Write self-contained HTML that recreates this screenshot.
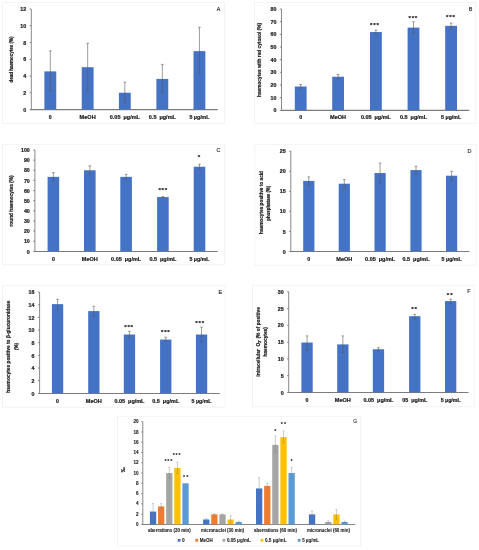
<!DOCTYPE html>
<html lang="en"><head><meta charset="utf-8"><title>Figure</title>
<style>
html,body{margin:0;padding:0;background:#fff;}
svg{display:block;font-family:"Liberation Sans",sans-serif;}
</style></head><body>
<svg width="479" height="550" viewBox="0 0 479 550">
<rect x="0" y="0" width="479" height="550" fill="#ffffff"/>
<rect x="2.50" y="2.50" width="222.00" height="120.90" fill="#fff" stroke="#f1f1f1" stroke-width="0.8"/>
<line x1="31.30" y1="9.00" x2="31.30" y2="110.10" stroke="#6a6a6a" stroke-width="0.8"/>
<line x1="30.90" y1="109.60" x2="217.70" y2="109.60" stroke="#7c7c7c" stroke-width="1.1"/>
<line x1="29.60" y1="109.50" x2="31.30" y2="109.50" stroke="#6a6a6a" stroke-width="0.75"/>
<text x="26.20" y="111.60" font-size="5.3" text-anchor="end" font-weight="bold" fill="#1f1f1f" stroke="#1f1f1f" stroke-width="0.22">0</text>
<line x1="29.60" y1="92.75" x2="31.30" y2="92.75" stroke="#6a6a6a" stroke-width="0.75"/>
<text x="26.20" y="94.85" font-size="5.3" text-anchor="end" font-weight="bold" fill="#1f1f1f" stroke="#1f1f1f" stroke-width="0.22">2</text>
<line x1="29.60" y1="76.00" x2="31.30" y2="76.00" stroke="#6a6a6a" stroke-width="0.75"/>
<text x="26.20" y="78.10" font-size="5.3" text-anchor="end" font-weight="bold" fill="#1f1f1f" stroke="#1f1f1f" stroke-width="0.22">4</text>
<line x1="29.60" y1="59.25" x2="31.30" y2="59.25" stroke="#6a6a6a" stroke-width="0.75"/>
<text x="26.20" y="61.35" font-size="5.3" text-anchor="end" font-weight="bold" fill="#1f1f1f" stroke="#1f1f1f" stroke-width="0.22">6</text>
<line x1="29.60" y1="42.50" x2="31.30" y2="42.50" stroke="#6a6a6a" stroke-width="0.75"/>
<text x="26.20" y="44.60" font-size="5.3" text-anchor="end" font-weight="bold" fill="#1f1f1f" stroke="#1f1f1f" stroke-width="0.22">8</text>
<line x1="29.60" y1="25.75" x2="31.30" y2="25.75" stroke="#6a6a6a" stroke-width="0.75"/>
<text x="26.20" y="27.85" font-size="5.3" text-anchor="end" font-weight="bold" fill="#1f1f1f" stroke="#1f1f1f" stroke-width="0.22">10</text>
<line x1="29.60" y1="9.00" x2="31.30" y2="9.00" stroke="#6a6a6a" stroke-width="0.75"/>
<text x="26.20" y="11.10" font-size="5.3" text-anchor="end" font-weight="bold" fill="#1f1f1f" stroke="#1f1f1f" stroke-width="0.22">12</text>
<rect x="44.40" y="71.39" width="11.85" height="38.11" fill="#4472C4"/>
<line x1="50.32" y1="50.90" x2="50.32" y2="91.50" stroke="#5a5a5a" stroke-width="0.6"/>
<line x1="49.02" y1="50.90" x2="51.62" y2="50.90" stroke="#5a5a5a" stroke-width="0.6"/>
<line x1="49.02" y1="91.50" x2="51.62" y2="91.50" stroke="#5a5a5a" stroke-width="0.6"/>
<rect x="81.75" y="67.21" width="11.85" height="42.29" fill="#4472C4"/>
<line x1="87.67" y1="43.40" x2="87.67" y2="90.70" stroke="#5a5a5a" stroke-width="0.6"/>
<line x1="86.38" y1="43.40" x2="88.97" y2="43.40" stroke="#5a5a5a" stroke-width="0.6"/>
<line x1="86.38" y1="90.70" x2="88.97" y2="90.70" stroke="#5a5a5a" stroke-width="0.6"/>
<rect x="118.90" y="92.75" width="11.85" height="16.75" fill="#4472C4"/>
<line x1="124.83" y1="82.20" x2="124.83" y2="102.80" stroke="#5a5a5a" stroke-width="0.6"/>
<line x1="123.53" y1="82.20" x2="126.12" y2="82.20" stroke="#5a5a5a" stroke-width="0.6"/>
<line x1="123.53" y1="102.80" x2="126.12" y2="102.80" stroke="#5a5a5a" stroke-width="0.6"/>
<rect x="156.40" y="78.93" width="11.85" height="30.57" fill="#4472C4"/>
<line x1="162.33" y1="64.40" x2="162.33" y2="92.70" stroke="#5a5a5a" stroke-width="0.6"/>
<line x1="161.03" y1="64.40" x2="163.63" y2="64.40" stroke="#5a5a5a" stroke-width="0.6"/>
<line x1="161.03" y1="92.70" x2="163.63" y2="92.70" stroke="#5a5a5a" stroke-width="0.6"/>
<rect x="193.50" y="51.13" width="11.85" height="58.37" fill="#4472C4"/>
<line x1="199.43" y1="27.30" x2="199.43" y2="73.90" stroke="#5a5a5a" stroke-width="0.6"/>
<line x1="198.12" y1="27.30" x2="200.73" y2="27.30" stroke="#5a5a5a" stroke-width="0.6"/>
<line x1="198.12" y1="73.90" x2="200.73" y2="73.90" stroke="#5a5a5a" stroke-width="0.6"/>
<text x="218.50" y="10.90" font-size="5.4" text-anchor="middle" font-weight="normal" fill="#333" stroke="#333" stroke-width="0.18">A</text>
<text x="13.20" y="59.50" font-size="4.9" text-anchor="middle" font-weight="bold" fill="#1f1f1f" stroke="#1f1f1f" stroke-width="0.22" transform="rotate(-90 13.20 59.50)" textLength="46.00" lengthAdjust="spacingAndGlyphs">dead haemocytes (%)</text>
<text x="50.32" y="118.80" font-size="5.2" text-anchor="middle" font-weight="bold" fill="#1f1f1f" stroke="#1f1f1f" stroke-width="0.22">0</text>
<text x="87.67" y="118.80" font-size="5.2" text-anchor="middle" font-weight="bold" fill="#1f1f1f" stroke="#1f1f1f" stroke-width="0.22" textLength="16.10" lengthAdjust="spacingAndGlyphs">MeOH</text>
<text x="124.83" y="118.80" font-size="5.2" text-anchor="middle" font-weight="bold" fill="#1f1f1f" stroke="#1f1f1f" stroke-width="0.22" textLength="30.00" lengthAdjust="spacingAndGlyphs">0.05  μg/mL</text>
<text x="162.33" y="118.80" font-size="5.2" text-anchor="middle" font-weight="bold" fill="#1f1f1f" stroke="#1f1f1f" stroke-width="0.22" textLength="27.00" lengthAdjust="spacingAndGlyphs">0.5  μg/mL</text>
<text x="199.43" y="118.80" font-size="5.2" text-anchor="middle" font-weight="bold" fill="#1f1f1f" stroke="#1f1f1f" stroke-width="0.22" textLength="20.00" lengthAdjust="spacingAndGlyphs">5 μg/mL</text>
<rect x="254.40" y="2.50" width="221.30" height="121.00" fill="#fff" stroke="#f1f1f1" stroke-width="0.8"/>
<line x1="281.50" y1="9.00" x2="281.50" y2="110.90" stroke="#6a6a6a" stroke-width="0.8"/>
<line x1="281.10" y1="110.40" x2="469.30" y2="110.40" stroke="#7c7c7c" stroke-width="1.1"/>
<line x1="279.80" y1="110.30" x2="281.50" y2="110.30" stroke="#6a6a6a" stroke-width="0.75"/>
<text x="276.40" y="112.40" font-size="5.3" text-anchor="end" font-weight="bold" fill="#1f1f1f" stroke="#1f1f1f" stroke-width="0.22">0</text>
<line x1="279.80" y1="97.64" x2="281.50" y2="97.64" stroke="#6a6a6a" stroke-width="0.75"/>
<text x="276.40" y="99.74" font-size="5.3" text-anchor="end" font-weight="bold" fill="#1f1f1f" stroke="#1f1f1f" stroke-width="0.22">10</text>
<line x1="279.80" y1="84.97" x2="281.50" y2="84.97" stroke="#6a6a6a" stroke-width="0.75"/>
<text x="276.40" y="87.07" font-size="5.3" text-anchor="end" font-weight="bold" fill="#1f1f1f" stroke="#1f1f1f" stroke-width="0.22">20</text>
<line x1="279.80" y1="72.31" x2="281.50" y2="72.31" stroke="#6a6a6a" stroke-width="0.75"/>
<text x="276.40" y="74.41" font-size="5.3" text-anchor="end" font-weight="bold" fill="#1f1f1f" stroke="#1f1f1f" stroke-width="0.22">30</text>
<line x1="279.80" y1="59.65" x2="281.50" y2="59.65" stroke="#6a6a6a" stroke-width="0.75"/>
<text x="276.40" y="61.75" font-size="5.3" text-anchor="end" font-weight="bold" fill="#1f1f1f" stroke="#1f1f1f" stroke-width="0.22">40</text>
<line x1="279.80" y1="46.99" x2="281.50" y2="46.99" stroke="#6a6a6a" stroke-width="0.75"/>
<text x="276.40" y="49.09" font-size="5.3" text-anchor="end" font-weight="bold" fill="#1f1f1f" stroke="#1f1f1f" stroke-width="0.22">50</text>
<line x1="279.80" y1="34.33" x2="281.50" y2="34.33" stroke="#6a6a6a" stroke-width="0.75"/>
<text x="276.40" y="36.43" font-size="5.3" text-anchor="end" font-weight="bold" fill="#1f1f1f" stroke="#1f1f1f" stroke-width="0.22">60</text>
<line x1="279.80" y1="21.66" x2="281.50" y2="21.66" stroke="#6a6a6a" stroke-width="0.75"/>
<text x="276.40" y="23.76" font-size="5.3" text-anchor="end" font-weight="bold" fill="#1f1f1f" stroke="#1f1f1f" stroke-width="0.22">70</text>
<line x1="279.80" y1="9.00" x2="281.50" y2="9.00" stroke="#6a6a6a" stroke-width="0.75"/>
<text x="276.40" y="11.10" font-size="5.3" text-anchor="end" font-weight="bold" fill="#1f1f1f" stroke="#1f1f1f" stroke-width="0.22">80</text>
<rect x="294.80" y="86.49" width="11.80" height="23.81" fill="#4472C4"/>
<line x1="300.70" y1="84.50" x2="300.70" y2="88.20" stroke="#5a5a5a" stroke-width="0.6"/>
<line x1="299.40" y1="84.50" x2="302.00" y2="84.50" stroke="#5a5a5a" stroke-width="0.6"/>
<line x1="299.40" y1="88.20" x2="302.00" y2="88.20" stroke="#5a5a5a" stroke-width="0.6"/>
<rect x="332.20" y="76.74" width="11.80" height="33.56" fill="#4472C4"/>
<line x1="338.10" y1="74.40" x2="338.10" y2="78.90" stroke="#5a5a5a" stroke-width="0.6"/>
<line x1="336.80" y1="74.40" x2="339.40" y2="74.40" stroke="#5a5a5a" stroke-width="0.6"/>
<line x1="336.80" y1="78.90" x2="339.40" y2="78.90" stroke="#5a5a5a" stroke-width="0.6"/>
<rect x="370.00" y="32.05" width="11.80" height="78.25" fill="#4472C4"/>
<line x1="375.90" y1="30.10" x2="375.90" y2="33.80" stroke="#5a5a5a" stroke-width="0.6"/>
<line x1="374.60" y1="30.10" x2="377.20" y2="30.10" stroke="#5a5a5a" stroke-width="0.6"/>
<line x1="374.60" y1="33.80" x2="377.20" y2="33.80" stroke="#5a5a5a" stroke-width="0.6"/>
<rect x="407.60" y="27.61" width="11.80" height="82.69" fill="#4472C4"/>
<line x1="413.50" y1="21.80" x2="413.50" y2="33.10" stroke="#5a5a5a" stroke-width="0.6"/>
<line x1="412.20" y1="21.80" x2="414.80" y2="21.80" stroke="#5a5a5a" stroke-width="0.6"/>
<line x1="412.20" y1="33.10" x2="414.80" y2="33.10" stroke="#5a5a5a" stroke-width="0.6"/>
<rect x="445.20" y="25.84" width="11.80" height="84.46" fill="#4472C4"/>
<line x1="451.10" y1="23.10" x2="451.10" y2="28.80" stroke="#5a5a5a" stroke-width="0.6"/>
<line x1="449.80" y1="23.10" x2="452.40" y2="23.10" stroke="#5a5a5a" stroke-width="0.6"/>
<line x1="449.80" y1="28.80" x2="452.40" y2="28.80" stroke="#5a5a5a" stroke-width="0.6"/>
<text x="374.50" y="26.70" font-size="6.2" text-anchor="middle" font-weight="bold" fill="#1f1f1f" stroke="#1f1f1f" stroke-width="0.2" textLength="8.79" lengthAdjust="spacing">***</text>
<text x="412.90" y="20.20" font-size="6.2" text-anchor="middle" font-weight="bold" fill="#1f1f1f" stroke="#1f1f1f" stroke-width="0.2" textLength="8.79" lengthAdjust="spacing">***</text>
<text x="450.50" y="18.80" font-size="6.2" text-anchor="middle" font-weight="bold" fill="#1f1f1f" stroke="#1f1f1f" stroke-width="0.2" textLength="8.79" lengthAdjust="spacing">***</text>
<text x="470.50" y="10.70" font-size="5.4" text-anchor="middle" font-weight="normal" fill="#333" stroke="#333" stroke-width="0.18">B</text>
<text x="261.20" y="60.00" font-size="4.9" text-anchor="middle" font-weight="bold" fill="#1f1f1f" stroke="#1f1f1f" stroke-width="0.22" transform="rotate(-90 261.20 60.00)" textLength="74.00" lengthAdjust="spacingAndGlyphs">haemocytes with red cytosol (%)</text>
<text x="300.70" y="118.80" font-size="5.2" text-anchor="middle" font-weight="bold" fill="#1f1f1f" stroke="#1f1f1f" stroke-width="0.22">0</text>
<text x="338.10" y="118.80" font-size="5.2" text-anchor="middle" font-weight="bold" fill="#1f1f1f" stroke="#1f1f1f" stroke-width="0.22" textLength="16.10" lengthAdjust="spacingAndGlyphs">MeOH</text>
<text x="375.90" y="118.80" font-size="5.2" text-anchor="middle" font-weight="bold" fill="#1f1f1f" stroke="#1f1f1f" stroke-width="0.22" textLength="30.00" lengthAdjust="spacingAndGlyphs">0.05  μg/mL</text>
<text x="413.50" y="118.80" font-size="5.2" text-anchor="middle" font-weight="bold" fill="#1f1f1f" stroke="#1f1f1f" stroke-width="0.22" textLength="27.00" lengthAdjust="spacingAndGlyphs">0.5  μg/mL</text>
<text x="451.10" y="118.80" font-size="5.2" text-anchor="middle" font-weight="bold" fill="#1f1f1f" stroke="#1f1f1f" stroke-width="0.22" textLength="20.00" lengthAdjust="spacingAndGlyphs">5 μg/mL</text>
<rect x="2.50" y="144.30" width="221.90" height="120.50" fill="#fff" stroke="#f1f1f1" stroke-width="0.8"/>
<line x1="34.90" y1="150.00" x2="34.90" y2="252.00" stroke="#6a6a6a" stroke-width="0.8"/>
<line x1="34.50" y1="251.50" x2="217.70" y2="251.50" stroke="#7c7c7c" stroke-width="1.1"/>
<line x1="33.20" y1="251.40" x2="34.90" y2="251.40" stroke="#6a6a6a" stroke-width="0.75"/>
<text x="29.80" y="253.50" font-size="5.3" text-anchor="end" font-weight="bold" fill="#1f1f1f" stroke="#1f1f1f" stroke-width="0.22">0</text>
<line x1="33.20" y1="241.26" x2="34.90" y2="241.26" stroke="#6a6a6a" stroke-width="0.75"/>
<text x="29.80" y="243.36" font-size="5.3" text-anchor="end" font-weight="bold" fill="#1f1f1f" stroke="#1f1f1f" stroke-width="0.22">10</text>
<line x1="33.20" y1="231.12" x2="34.90" y2="231.12" stroke="#6a6a6a" stroke-width="0.75"/>
<text x="29.80" y="233.22" font-size="5.3" text-anchor="end" font-weight="bold" fill="#1f1f1f" stroke="#1f1f1f" stroke-width="0.22">20</text>
<line x1="33.20" y1="220.98" x2="34.90" y2="220.98" stroke="#6a6a6a" stroke-width="0.75"/>
<text x="29.80" y="223.08" font-size="5.3" text-anchor="end" font-weight="bold" fill="#1f1f1f" stroke="#1f1f1f" stroke-width="0.22">30</text>
<line x1="33.20" y1="210.84" x2="34.90" y2="210.84" stroke="#6a6a6a" stroke-width="0.75"/>
<text x="29.80" y="212.94" font-size="5.3" text-anchor="end" font-weight="bold" fill="#1f1f1f" stroke="#1f1f1f" stroke-width="0.22">40</text>
<line x1="33.20" y1="200.70" x2="34.90" y2="200.70" stroke="#6a6a6a" stroke-width="0.75"/>
<text x="29.80" y="202.80" font-size="5.3" text-anchor="end" font-weight="bold" fill="#1f1f1f" stroke="#1f1f1f" stroke-width="0.22">50</text>
<line x1="33.20" y1="190.56" x2="34.90" y2="190.56" stroke="#6a6a6a" stroke-width="0.75"/>
<text x="29.80" y="192.66" font-size="5.3" text-anchor="end" font-weight="bold" fill="#1f1f1f" stroke="#1f1f1f" stroke-width="0.22">60</text>
<line x1="33.20" y1="180.42" x2="34.90" y2="180.42" stroke="#6a6a6a" stroke-width="0.75"/>
<text x="29.80" y="182.52" font-size="5.3" text-anchor="end" font-weight="bold" fill="#1f1f1f" stroke="#1f1f1f" stroke-width="0.22">70</text>
<line x1="33.20" y1="170.28" x2="34.90" y2="170.28" stroke="#6a6a6a" stroke-width="0.75"/>
<text x="29.80" y="172.38" font-size="5.3" text-anchor="end" font-weight="bold" fill="#1f1f1f" stroke="#1f1f1f" stroke-width="0.22">80</text>
<line x1="33.20" y1="160.14" x2="34.90" y2="160.14" stroke="#6a6a6a" stroke-width="0.75"/>
<text x="29.80" y="162.24" font-size="5.3" text-anchor="end" font-weight="bold" fill="#1f1f1f" stroke="#1f1f1f" stroke-width="0.22">90</text>
<line x1="33.20" y1="150.00" x2="34.90" y2="150.00" stroke="#6a6a6a" stroke-width="0.75"/>
<text x="29.80" y="152.10" font-size="5.3" text-anchor="end" font-weight="bold" fill="#1f1f1f" stroke="#1f1f1f" stroke-width="0.22">100</text>
<rect x="47.60" y="176.87" width="11.60" height="74.53" fill="#4472C4"/>
<line x1="53.40" y1="172.60" x2="53.40" y2="180.90" stroke="#5a5a5a" stroke-width="0.6"/>
<line x1="52.10" y1="172.60" x2="54.70" y2="172.60" stroke="#5a5a5a" stroke-width="0.6"/>
<line x1="52.10" y1="180.90" x2="54.70" y2="180.90" stroke="#5a5a5a" stroke-width="0.6"/>
<rect x="84.00" y="170.28" width="11.60" height="81.12" fill="#4472C4"/>
<line x1="89.80" y1="165.80" x2="89.80" y2="174.60" stroke="#5a5a5a" stroke-width="0.6"/>
<line x1="88.50" y1="165.80" x2="91.10" y2="165.80" stroke="#5a5a5a" stroke-width="0.6"/>
<line x1="88.50" y1="174.60" x2="91.10" y2="174.60" stroke="#5a5a5a" stroke-width="0.6"/>
<rect x="120.30" y="176.87" width="11.60" height="74.53" fill="#4472C4"/>
<line x1="126.10" y1="174.40" x2="126.10" y2="179.40" stroke="#5a5a5a" stroke-width="0.6"/>
<line x1="124.80" y1="174.40" x2="127.40" y2="174.40" stroke="#5a5a5a" stroke-width="0.6"/>
<line x1="124.80" y1="179.40" x2="127.40" y2="179.40" stroke="#5a5a5a" stroke-width="0.6"/>
<rect x="157.10" y="197.05" width="11.60" height="54.35" fill="#4472C4"/>
<line x1="162.90" y1="196.40" x2="162.90" y2="197.90" stroke="#5a5a5a" stroke-width="0.6"/>
<line x1="161.60" y1="196.40" x2="164.20" y2="196.40" stroke="#5a5a5a" stroke-width="0.6"/>
<line x1="161.60" y1="197.90" x2="164.20" y2="197.90" stroke="#5a5a5a" stroke-width="0.6"/>
<rect x="193.70" y="166.73" width="11.60" height="84.67" fill="#4472C4"/>
<line x1="199.50" y1="164.10" x2="199.50" y2="169.30" stroke="#5a5a5a" stroke-width="0.6"/>
<line x1="198.20" y1="164.10" x2="200.80" y2="164.10" stroke="#5a5a5a" stroke-width="0.6"/>
<line x1="198.20" y1="169.30" x2="200.80" y2="169.30" stroke="#5a5a5a" stroke-width="0.6"/>
<text x="162.80" y="191.70" font-size="6.2" text-anchor="middle" font-weight="bold" fill="#1f1f1f" stroke="#1f1f1f" stroke-width="0.2" textLength="8.79" lengthAdjust="spacing">***</text>
<text x="199.00" y="159.00" font-size="6.2" text-anchor="middle" font-weight="bold" fill="#1f1f1f" stroke="#1f1f1f" stroke-width="0.2">*</text>
<text x="218.50" y="151.90" font-size="5.4" text-anchor="middle" font-weight="normal" fill="#333" stroke="#333" stroke-width="0.18">C</text>
<text x="12.60" y="201.00" font-size="4.9" text-anchor="middle" font-weight="bold" fill="#1f1f1f" stroke="#1f1f1f" stroke-width="0.22" transform="rotate(-90 12.60 201.00)" textLength="51.00" lengthAdjust="spacingAndGlyphs">round haemocytes (%)</text>
<text x="53.40" y="260.90" font-size="5.2" text-anchor="middle" font-weight="bold" fill="#1f1f1f" stroke="#1f1f1f" stroke-width="0.22">0</text>
<text x="89.80" y="260.90" font-size="5.2" text-anchor="middle" font-weight="bold" fill="#1f1f1f" stroke="#1f1f1f" stroke-width="0.22" textLength="16.10" lengthAdjust="spacingAndGlyphs">MeOH</text>
<text x="126.10" y="260.90" font-size="5.2" text-anchor="middle" font-weight="bold" fill="#1f1f1f" stroke="#1f1f1f" stroke-width="0.22" textLength="30.00" lengthAdjust="spacingAndGlyphs">0.05  μg/mL</text>
<text x="162.90" y="260.90" font-size="5.2" text-anchor="middle" font-weight="bold" fill="#1f1f1f" stroke="#1f1f1f" stroke-width="0.22" textLength="27.00" lengthAdjust="spacingAndGlyphs">0.5  μg/mL</text>
<text x="199.50" y="260.90" font-size="5.2" text-anchor="middle" font-weight="bold" fill="#1f1f1f" stroke="#1f1f1f" stroke-width="0.22" textLength="20.00" lengthAdjust="spacingAndGlyphs">5 μg/mL</text>
<rect x="254.80" y="144.30" width="221.50" height="120.90" fill="#fff" stroke="#f1f1f1" stroke-width="0.8"/>
<line x1="290.80" y1="151.25" x2="290.80" y2="252.05" stroke="#6a6a6a" stroke-width="0.8"/>
<line x1="290.40" y1="251.55" x2="469.30" y2="251.55" stroke="#7c7c7c" stroke-width="1.1"/>
<line x1="289.10" y1="251.45" x2="290.80" y2="251.45" stroke="#6a6a6a" stroke-width="0.75"/>
<text x="285.70" y="253.55" font-size="5.3" text-anchor="end" font-weight="bold" fill="#1f1f1f" stroke="#1f1f1f" stroke-width="0.22">0</text>
<line x1="289.10" y1="231.41" x2="290.80" y2="231.41" stroke="#6a6a6a" stroke-width="0.75"/>
<text x="285.70" y="233.51" font-size="5.3" text-anchor="end" font-weight="bold" fill="#1f1f1f" stroke="#1f1f1f" stroke-width="0.22">5</text>
<line x1="289.10" y1="211.37" x2="290.80" y2="211.37" stroke="#6a6a6a" stroke-width="0.75"/>
<text x="285.70" y="213.47" font-size="5.3" text-anchor="end" font-weight="bold" fill="#1f1f1f" stroke="#1f1f1f" stroke-width="0.22">10</text>
<line x1="289.10" y1="191.33" x2="290.80" y2="191.33" stroke="#6a6a6a" stroke-width="0.75"/>
<text x="285.70" y="193.43" font-size="5.3" text-anchor="end" font-weight="bold" fill="#1f1f1f" stroke="#1f1f1f" stroke-width="0.22">15</text>
<line x1="289.10" y1="171.29" x2="290.80" y2="171.29" stroke="#6a6a6a" stroke-width="0.75"/>
<text x="285.70" y="173.39" font-size="5.3" text-anchor="end" font-weight="bold" fill="#1f1f1f" stroke="#1f1f1f" stroke-width="0.22">20</text>
<line x1="289.10" y1="151.25" x2="290.80" y2="151.25" stroke="#6a6a6a" stroke-width="0.75"/>
<text x="285.70" y="153.35" font-size="5.3" text-anchor="end" font-weight="bold" fill="#1f1f1f" stroke="#1f1f1f" stroke-width="0.22">25</text>
<rect x="303.20" y="180.91" width="11.20" height="70.54" fill="#4472C4"/>
<line x1="308.80" y1="176.90" x2="308.80" y2="185.60" stroke="#5a5a5a" stroke-width="0.6"/>
<line x1="307.50" y1="176.90" x2="310.10" y2="176.90" stroke="#5a5a5a" stroke-width="0.6"/>
<line x1="307.50" y1="185.60" x2="310.10" y2="185.60" stroke="#5a5a5a" stroke-width="0.6"/>
<rect x="338.70" y="183.71" width="11.20" height="67.74" fill="#4472C4"/>
<line x1="344.30" y1="179.60" x2="344.30" y2="188.40" stroke="#5a5a5a" stroke-width="0.6"/>
<line x1="343.00" y1="179.60" x2="345.60" y2="179.60" stroke="#5a5a5a" stroke-width="0.6"/>
<line x1="343.00" y1="188.40" x2="345.60" y2="188.40" stroke="#5a5a5a" stroke-width="0.6"/>
<rect x="374.50" y="173.05" width="11.20" height="78.40" fill="#4472C4"/>
<line x1="380.10" y1="163.10" x2="380.10" y2="183.40" stroke="#5a5a5a" stroke-width="0.6"/>
<line x1="378.80" y1="163.10" x2="381.40" y2="163.10" stroke="#5a5a5a" stroke-width="0.6"/>
<line x1="378.80" y1="183.40" x2="381.40" y2="183.40" stroke="#5a5a5a" stroke-width="0.6"/>
<rect x="410.40" y="170.09" width="11.20" height="81.36" fill="#4472C4"/>
<line x1="416.00" y1="166.30" x2="416.00" y2="174.40" stroke="#5a5a5a" stroke-width="0.6"/>
<line x1="414.70" y1="166.30" x2="417.30" y2="166.30" stroke="#5a5a5a" stroke-width="0.6"/>
<line x1="414.70" y1="174.40" x2="417.30" y2="174.40" stroke="#5a5a5a" stroke-width="0.6"/>
<rect x="446.00" y="175.70" width="11.20" height="75.75" fill="#4472C4"/>
<line x1="451.60" y1="171.40" x2="451.60" y2="180.90" stroke="#5a5a5a" stroke-width="0.6"/>
<line x1="450.30" y1="171.40" x2="452.90" y2="171.40" stroke="#5a5a5a" stroke-width="0.6"/>
<line x1="450.30" y1="180.90" x2="452.90" y2="180.90" stroke="#5a5a5a" stroke-width="0.6"/>
<text x="469.50" y="153.20" font-size="5.4" text-anchor="middle" font-weight="normal" fill="#333" stroke="#333" stroke-width="0.18">D</text>
<text x="263.00" y="202.50" font-size="4.9" text-anchor="middle" font-weight="bold" fill="#1f1f1f" stroke="#1f1f1f" stroke-width="0.22" transform="rotate(-90 263.00 202.50)" textLength="63.00" lengthAdjust="spacingAndGlyphs">haemocytes positive to acid</text>
<text x="270.50" y="203.20" font-size="4.9" text-anchor="middle" font-weight="bold" fill="#1f1f1f" stroke="#1f1f1f" stroke-width="0.22" transform="rotate(-90 270.50 203.20)" textLength="35.00" lengthAdjust="spacingAndGlyphs">phosphatase (%)</text>
<text x="308.80" y="260.90" font-size="5.2" text-anchor="middle" font-weight="bold" fill="#1f1f1f" stroke="#1f1f1f" stroke-width="0.22">0</text>
<text x="344.30" y="260.90" font-size="5.2" text-anchor="middle" font-weight="bold" fill="#1f1f1f" stroke="#1f1f1f" stroke-width="0.22" textLength="16.10" lengthAdjust="spacingAndGlyphs">MeOH</text>
<text x="380.10" y="260.90" font-size="5.2" text-anchor="middle" font-weight="bold" fill="#1f1f1f" stroke="#1f1f1f" stroke-width="0.22" textLength="30.00" lengthAdjust="spacingAndGlyphs">0.05  μg/mL</text>
<text x="416.00" y="260.90" font-size="5.2" text-anchor="middle" font-weight="bold" fill="#1f1f1f" stroke="#1f1f1f" stroke-width="0.22" textLength="27.00" lengthAdjust="spacingAndGlyphs">0.5  μg/mL</text>
<text x="451.60" y="260.90" font-size="5.2" text-anchor="middle" font-weight="bold" fill="#1f1f1f" stroke="#1f1f1f" stroke-width="0.22" textLength="20.00" lengthAdjust="spacingAndGlyphs">5 μg/mL</text>
<rect x="2.50" y="285.30" width="222.60" height="121.90" fill="#fff" stroke="#f1f1f1" stroke-width="0.8"/>
<line x1="39.60" y1="292.10" x2="39.60" y2="394.00" stroke="#6a6a6a" stroke-width="0.8"/>
<line x1="39.20" y1="393.50" x2="219.70" y2="393.50" stroke="#7c7c7c" stroke-width="1.1"/>
<line x1="37.90" y1="393.40" x2="39.60" y2="393.40" stroke="#6a6a6a" stroke-width="0.75"/>
<text x="34.50" y="395.50" font-size="5.3" text-anchor="end" font-weight="bold" fill="#1f1f1f" stroke="#1f1f1f" stroke-width="0.22">0</text>
<line x1="37.90" y1="380.74" x2="39.60" y2="380.74" stroke="#6a6a6a" stroke-width="0.75"/>
<text x="34.50" y="382.84" font-size="5.3" text-anchor="end" font-weight="bold" fill="#1f1f1f" stroke="#1f1f1f" stroke-width="0.22">2</text>
<line x1="37.90" y1="368.07" x2="39.60" y2="368.07" stroke="#6a6a6a" stroke-width="0.75"/>
<text x="34.50" y="370.18" font-size="5.3" text-anchor="end" font-weight="bold" fill="#1f1f1f" stroke="#1f1f1f" stroke-width="0.22">4</text>
<line x1="37.90" y1="355.41" x2="39.60" y2="355.41" stroke="#6a6a6a" stroke-width="0.75"/>
<text x="34.50" y="357.51" font-size="5.3" text-anchor="end" font-weight="bold" fill="#1f1f1f" stroke="#1f1f1f" stroke-width="0.22">6</text>
<line x1="37.90" y1="342.75" x2="39.60" y2="342.75" stroke="#6a6a6a" stroke-width="0.75"/>
<text x="34.50" y="344.85" font-size="5.3" text-anchor="end" font-weight="bold" fill="#1f1f1f" stroke="#1f1f1f" stroke-width="0.22">8</text>
<line x1="37.90" y1="330.09" x2="39.60" y2="330.09" stroke="#6a6a6a" stroke-width="0.75"/>
<text x="34.50" y="332.19" font-size="5.3" text-anchor="end" font-weight="bold" fill="#1f1f1f" stroke="#1f1f1f" stroke-width="0.22">10</text>
<line x1="37.90" y1="317.43" x2="39.60" y2="317.43" stroke="#6a6a6a" stroke-width="0.75"/>
<text x="34.50" y="319.53" font-size="5.3" text-anchor="end" font-weight="bold" fill="#1f1f1f" stroke="#1f1f1f" stroke-width="0.22">12</text>
<line x1="37.90" y1="304.76" x2="39.60" y2="304.76" stroke="#6a6a6a" stroke-width="0.75"/>
<text x="34.50" y="306.86" font-size="5.3" text-anchor="end" font-weight="bold" fill="#1f1f1f" stroke="#1f1f1f" stroke-width="0.22">14</text>
<line x1="37.90" y1="292.10" x2="39.60" y2="292.10" stroke="#6a6a6a" stroke-width="0.75"/>
<text x="34.50" y="294.20" font-size="5.3" text-anchor="end" font-weight="bold" fill="#1f1f1f" stroke="#1f1f1f" stroke-width="0.22">16</text>
<rect x="51.90" y="304.13" width="11.30" height="89.27" fill="#4472C4"/>
<line x1="57.55" y1="299.30" x2="57.55" y2="310.10" stroke="#5a5a5a" stroke-width="0.6"/>
<line x1="56.25" y1="299.30" x2="58.85" y2="299.30" stroke="#5a5a5a" stroke-width="0.6"/>
<line x1="56.25" y1="310.10" x2="58.85" y2="310.10" stroke="#5a5a5a" stroke-width="0.6"/>
<rect x="88.20" y="311.09" width="11.30" height="82.31" fill="#4472C4"/>
<line x1="93.85" y1="306.30" x2="93.85" y2="316.40" stroke="#5a5a5a" stroke-width="0.6"/>
<line x1="92.55" y1="306.30" x2="95.15" y2="306.30" stroke="#5a5a5a" stroke-width="0.6"/>
<line x1="92.55" y1="316.40" x2="95.15" y2="316.40" stroke="#5a5a5a" stroke-width="0.6"/>
<rect x="123.80" y="334.52" width="11.30" height="58.88" fill="#4472C4"/>
<line x1="129.45" y1="331.40" x2="129.45" y2="337.70" stroke="#5a5a5a" stroke-width="0.6"/>
<line x1="128.15" y1="331.40" x2="130.75" y2="331.40" stroke="#5a5a5a" stroke-width="0.6"/>
<line x1="128.15" y1="337.70" x2="130.75" y2="337.70" stroke="#5a5a5a" stroke-width="0.6"/>
<rect x="160.10" y="339.58" width="11.30" height="53.82" fill="#4472C4"/>
<line x1="165.75" y1="337.20" x2="165.75" y2="341.40" stroke="#5a5a5a" stroke-width="0.6"/>
<line x1="164.45" y1="337.20" x2="167.05" y2="337.20" stroke="#5a5a5a" stroke-width="0.6"/>
<line x1="164.45" y1="341.40" x2="167.05" y2="341.40" stroke="#5a5a5a" stroke-width="0.6"/>
<rect x="195.90" y="334.52" width="11.30" height="58.88" fill="#4472C4"/>
<line x1="201.55" y1="327.10" x2="201.55" y2="342.20" stroke="#5a5a5a" stroke-width="0.6"/>
<line x1="200.25" y1="327.10" x2="202.85" y2="327.10" stroke="#5a5a5a" stroke-width="0.6"/>
<line x1="200.25" y1="342.20" x2="202.85" y2="342.20" stroke="#5a5a5a" stroke-width="0.6"/>
<text x="128.60" y="328.80" font-size="6.2" text-anchor="middle" font-weight="bold" fill="#1f1f1f" stroke="#1f1f1f" stroke-width="0.2" textLength="8.79" lengthAdjust="spacing">***</text>
<text x="165.40" y="334.20" font-size="6.2" text-anchor="middle" font-weight="bold" fill="#1f1f1f" stroke="#1f1f1f" stroke-width="0.2" textLength="8.79" lengthAdjust="spacing">***</text>
<text x="199.70" y="325.30" font-size="6.2" text-anchor="middle" font-weight="bold" fill="#1f1f1f" stroke="#1f1f1f" stroke-width="0.2" textLength="8.79" lengthAdjust="spacing">***</text>
<text x="220.30" y="293.90" font-size="5.4" text-anchor="middle" font-weight="normal" fill="#333" stroke="#333" stroke-width="0.18">E</text>
<text x="10.30" y="346.70" font-size="4.9" text-anchor="middle" font-weight="bold" fill="#1f1f1f" stroke="#1f1f1f" stroke-width="0.22" transform="rotate(-90 10.30 346.70)" textLength="92.00" lengthAdjust="spacingAndGlyphs">haemocytes positive to β-glucuronidase</text>
<text x="18.50" y="346.40" font-size="4.9" text-anchor="middle" font-weight="bold" fill="#1f1f1f" stroke="#1f1f1f" stroke-width="0.22" transform="rotate(-90 18.50 346.40)" textLength="7.00" lengthAdjust="spacingAndGlyphs">(%)</text>
<text x="57.55" y="402.70" font-size="5.2" text-anchor="middle" font-weight="bold" fill="#1f1f1f" stroke="#1f1f1f" stroke-width="0.22">0</text>
<text x="93.85" y="402.70" font-size="5.2" text-anchor="middle" font-weight="bold" fill="#1f1f1f" stroke="#1f1f1f" stroke-width="0.22" textLength="16.10" lengthAdjust="spacingAndGlyphs">MeOH</text>
<text x="129.45" y="402.70" font-size="5.2" text-anchor="middle" font-weight="bold" fill="#1f1f1f" stroke="#1f1f1f" stroke-width="0.22" textLength="30.00" lengthAdjust="spacingAndGlyphs">0.05  μg/mL</text>
<text x="165.75" y="402.70" font-size="5.2" text-anchor="middle" font-weight="bold" fill="#1f1f1f" stroke="#1f1f1f" stroke-width="0.22" textLength="27.00" lengthAdjust="spacingAndGlyphs">0.5  μg/mL</text>
<text x="201.55" y="402.70" font-size="5.2" text-anchor="middle" font-weight="bold" fill="#1f1f1f" stroke="#1f1f1f" stroke-width="0.22" textLength="20.00" lengthAdjust="spacingAndGlyphs">5 μg/mL</text>
<rect x="252.50" y="285.20" width="221.70" height="121.60" fill="#fff" stroke="#f1f1f1" stroke-width="0.8"/>
<line x1="288.70" y1="291.70" x2="288.70" y2="393.00" stroke="#6a6a6a" stroke-width="0.8"/>
<line x1="288.30" y1="392.50" x2="468.50" y2="392.50" stroke="#7c7c7c" stroke-width="1.1"/>
<line x1="287.00" y1="392.40" x2="288.70" y2="392.40" stroke="#6a6a6a" stroke-width="0.75"/>
<text x="283.60" y="394.50" font-size="5.3" text-anchor="end" font-weight="bold" fill="#1f1f1f" stroke="#1f1f1f" stroke-width="0.22">0</text>
<line x1="287.00" y1="375.62" x2="288.70" y2="375.62" stroke="#6a6a6a" stroke-width="0.75"/>
<text x="283.60" y="377.72" font-size="5.3" text-anchor="end" font-weight="bold" fill="#1f1f1f" stroke="#1f1f1f" stroke-width="0.22">5</text>
<line x1="287.00" y1="358.83" x2="288.70" y2="358.83" stroke="#6a6a6a" stroke-width="0.75"/>
<text x="283.60" y="360.93" font-size="5.3" text-anchor="end" font-weight="bold" fill="#1f1f1f" stroke="#1f1f1f" stroke-width="0.22">10</text>
<line x1="287.00" y1="342.05" x2="288.70" y2="342.05" stroke="#6a6a6a" stroke-width="0.75"/>
<text x="283.60" y="344.15" font-size="5.3" text-anchor="end" font-weight="bold" fill="#1f1f1f" stroke="#1f1f1f" stroke-width="0.22">15</text>
<line x1="287.00" y1="325.27" x2="288.70" y2="325.27" stroke="#6a6a6a" stroke-width="0.75"/>
<text x="283.60" y="327.37" font-size="5.3" text-anchor="end" font-weight="bold" fill="#1f1f1f" stroke="#1f1f1f" stroke-width="0.22">20</text>
<line x1="287.00" y1="308.48" x2="288.70" y2="308.48" stroke="#6a6a6a" stroke-width="0.75"/>
<text x="283.60" y="310.58" font-size="5.3" text-anchor="end" font-weight="bold" fill="#1f1f1f" stroke="#1f1f1f" stroke-width="0.22">25</text>
<line x1="287.00" y1="291.70" x2="288.70" y2="291.70" stroke="#6a6a6a" stroke-width="0.75"/>
<text x="283.60" y="293.80" font-size="5.3" text-anchor="end" font-weight="bold" fill="#1f1f1f" stroke="#1f1f1f" stroke-width="0.22">30</text>
<rect x="301.40" y="342.55" width="11.30" height="49.85" fill="#4472C4"/>
<line x1="307.05" y1="335.90" x2="307.05" y2="350.20" stroke="#5a5a5a" stroke-width="0.6"/>
<line x1="305.75" y1="335.90" x2="308.35" y2="335.90" stroke="#5a5a5a" stroke-width="0.6"/>
<line x1="305.75" y1="350.20" x2="308.35" y2="350.20" stroke="#5a5a5a" stroke-width="0.6"/>
<rect x="337.20" y="344.40" width="11.30" height="48.00" fill="#4472C4"/>
<line x1="342.85" y1="335.90" x2="342.85" y2="352.70" stroke="#5a5a5a" stroke-width="0.6"/>
<line x1="341.55" y1="335.90" x2="344.15" y2="335.90" stroke="#5a5a5a" stroke-width="0.6"/>
<line x1="341.55" y1="352.70" x2="344.15" y2="352.70" stroke="#5a5a5a" stroke-width="0.6"/>
<rect x="372.80" y="349.27" width="11.30" height="43.13" fill="#4472C4"/>
<line x1="378.45" y1="347.70" x2="378.45" y2="351.00" stroke="#5a5a5a" stroke-width="0.6"/>
<line x1="377.15" y1="347.70" x2="379.75" y2="347.70" stroke="#5a5a5a" stroke-width="0.6"/>
<line x1="377.15" y1="351.00" x2="379.75" y2="351.00" stroke="#5a5a5a" stroke-width="0.6"/>
<rect x="409.10" y="316.20" width="11.30" height="76.20" fill="#4472C4"/>
<line x1="414.75" y1="314.40" x2="414.75" y2="318.90" stroke="#5a5a5a" stroke-width="0.6"/>
<line x1="413.45" y1="314.40" x2="416.05" y2="314.40" stroke="#5a5a5a" stroke-width="0.6"/>
<line x1="413.45" y1="318.90" x2="416.05" y2="318.90" stroke="#5a5a5a" stroke-width="0.6"/>
<rect x="445.00" y="301.10" width="11.30" height="91.30" fill="#4472C4"/>
<line x1="450.65" y1="299.30" x2="450.65" y2="303.30" stroke="#5a5a5a" stroke-width="0.6"/>
<line x1="449.35" y1="299.30" x2="451.95" y2="299.30" stroke="#5a5a5a" stroke-width="0.6"/>
<line x1="449.35" y1="303.30" x2="451.95" y2="303.30" stroke="#5a5a5a" stroke-width="0.6"/>
<text x="414.10" y="310.70" font-size="6.2" text-anchor="middle" font-weight="bold" fill="#1f1f1f" stroke="#1f1f1f" stroke-width="0.2" textLength="5.86" lengthAdjust="spacing">**</text>
<text x="449.70" y="297.20" font-size="6.2" text-anchor="middle" font-weight="bold" fill="#1f1f1f" stroke="#1f1f1f" stroke-width="0.2" textLength="5.86" lengthAdjust="spacing">**</text>
<text x="468.80" y="293.20" font-size="5.4" text-anchor="middle" font-weight="normal" fill="#333" stroke="#333" stroke-width="0.18">F</text>
<text x="260.30" y="341.80" font-size="4.9" text-anchor="middle" font-weight="bold" fill="#1f1f1f" stroke="#1f1f1f" stroke-width="0.22" transform="rotate(-90 260.30 341.80)" textLength="69.40" lengthAdjust="spacingAndGlyphs">intracellular  O<tspan font-size="3.2" dy="1">2</tspan><tspan font-size="3.2" dy="-2.6">-</tspan><tspan dy="1.6"> (% of positive</tspan></text>
<text x="266.80" y="341.80" font-size="4.9" text-anchor="middle" font-weight="bold" fill="#1f1f1f" stroke="#1f1f1f" stroke-width="0.22" transform="rotate(-90 266.80 341.80)" textLength="29.40" lengthAdjust="spacingAndGlyphs">haemocytes)</text>
<text x="307.05" y="401.80" font-size="5.2" text-anchor="middle" font-weight="bold" fill="#1f1f1f" stroke="#1f1f1f" stroke-width="0.22">0</text>
<text x="342.85" y="401.80" font-size="5.2" text-anchor="middle" font-weight="bold" fill="#1f1f1f" stroke="#1f1f1f" stroke-width="0.22" textLength="16.10" lengthAdjust="spacingAndGlyphs">MeOH</text>
<text x="378.45" y="401.80" font-size="5.2" text-anchor="middle" font-weight="bold" fill="#1f1f1f" stroke="#1f1f1f" stroke-width="0.22" textLength="30.00" lengthAdjust="spacingAndGlyphs">0.05  μg/mL</text>
<text x="414.75" y="401.80" font-size="5.2" text-anchor="middle" font-weight="bold" fill="#1f1f1f" stroke="#1f1f1f" stroke-width="0.22" textLength="25.00" lengthAdjust="spacingAndGlyphs">05  μg/mL</text>
<text x="450.65" y="401.80" font-size="5.2" text-anchor="middle" font-weight="bold" fill="#1f1f1f" stroke="#1f1f1f" stroke-width="0.22" textLength="20.00" lengthAdjust="spacingAndGlyphs">5 μg/mL</text>
<rect x="117.50" y="416.30" width="242.90" height="129.70" fill="#fff" stroke="#f1f1f1" stroke-width="0.8"/>
<line x1="142.80" y1="421.70" x2="142.80" y2="525.00" stroke="#6a6a6a" stroke-width="0.8"/>
<line x1="142.40" y1="524.45" x2="355.20" y2="524.45" stroke="#848484" stroke-width="1.05"/>
<line x1="141.20" y1="524.40" x2="142.80" y2="524.40" stroke="#6a6a6a" stroke-width="0.7"/>
<text x="138.50" y="526.00" font-size="4.6" text-anchor="end" font-weight="bold" fill="#1f1f1f" stroke="#1f1f1f" stroke-width="0.12">0</text>
<line x1="141.20" y1="514.13" x2="142.80" y2="514.13" stroke="#6a6a6a" stroke-width="0.7"/>
<text x="138.50" y="515.73" font-size="4.6" text-anchor="end" font-weight="bold" fill="#1f1f1f" stroke="#1f1f1f" stroke-width="0.12">2</text>
<line x1="141.20" y1="503.86" x2="142.80" y2="503.86" stroke="#6a6a6a" stroke-width="0.7"/>
<text x="138.50" y="505.46" font-size="4.6" text-anchor="end" font-weight="bold" fill="#1f1f1f" stroke="#1f1f1f" stroke-width="0.12">4</text>
<line x1="141.20" y1="493.59" x2="142.80" y2="493.59" stroke="#6a6a6a" stroke-width="0.7"/>
<text x="138.50" y="495.19" font-size="4.6" text-anchor="end" font-weight="bold" fill="#1f1f1f" stroke="#1f1f1f" stroke-width="0.12">6</text>
<line x1="141.20" y1="483.32" x2="142.80" y2="483.32" stroke="#6a6a6a" stroke-width="0.7"/>
<text x="138.50" y="484.92" font-size="4.6" text-anchor="end" font-weight="bold" fill="#1f1f1f" stroke="#1f1f1f" stroke-width="0.12">8</text>
<line x1="141.20" y1="473.05" x2="142.80" y2="473.05" stroke="#6a6a6a" stroke-width="0.7"/>
<text x="138.50" y="474.65" font-size="4.6" text-anchor="end" font-weight="bold" fill="#1f1f1f" stroke="#1f1f1f" stroke-width="0.12">10</text>
<line x1="141.20" y1="462.78" x2="142.80" y2="462.78" stroke="#6a6a6a" stroke-width="0.7"/>
<text x="138.50" y="464.38" font-size="4.6" text-anchor="end" font-weight="bold" fill="#1f1f1f" stroke="#1f1f1f" stroke-width="0.12">12</text>
<line x1="141.20" y1="452.51" x2="142.80" y2="452.51" stroke="#6a6a6a" stroke-width="0.7"/>
<text x="138.50" y="454.11" font-size="4.6" text-anchor="end" font-weight="bold" fill="#1f1f1f" stroke="#1f1f1f" stroke-width="0.12">14</text>
<line x1="141.20" y1="442.24" x2="142.80" y2="442.24" stroke="#6a6a6a" stroke-width="0.7"/>
<text x="138.50" y="443.84" font-size="4.6" text-anchor="end" font-weight="bold" fill="#1f1f1f" stroke="#1f1f1f" stroke-width="0.12">16</text>
<line x1="141.20" y1="431.97" x2="142.80" y2="431.97" stroke="#6a6a6a" stroke-width="0.7"/>
<text x="138.50" y="433.57" font-size="4.6" text-anchor="end" font-weight="bold" fill="#1f1f1f" stroke="#1f1f1f" stroke-width="0.12">18</text>
<line x1="141.20" y1="421.70" x2="142.80" y2="421.70" stroke="#6a6a6a" stroke-width="0.7"/>
<text x="138.50" y="423.30" font-size="4.6" text-anchor="end" font-weight="bold" fill="#1f1f1f" stroke="#1f1f1f" stroke-width="0.12">20</text>
<rect x="149.90" y="511.56" width="6.30" height="12.84" fill="#4472C4"/>
<line x1="153.05" y1="503.60" x2="153.05" y2="519.26" stroke="#808080" stroke-width="0.4"/>
<line x1="152.05" y1="503.60" x2="154.05" y2="503.60" stroke="#808080" stroke-width="0.4"/>
<line x1="152.05" y1="519.26" x2="154.05" y2="519.26" stroke="#808080" stroke-width="0.4"/>
<rect x="158.02" y="506.43" width="6.30" height="17.97" fill="#ED7D31"/>
<line x1="161.17" y1="503.60" x2="161.17" y2="509.00" stroke="#808080" stroke-width="0.4"/>
<line x1="160.17" y1="503.60" x2="162.17" y2="503.60" stroke="#808080" stroke-width="0.4"/>
<line x1="160.17" y1="509.00" x2="162.17" y2="509.00" stroke="#808080" stroke-width="0.4"/>
<rect x="166.14" y="473.05" width="6.30" height="51.35" fill="#A5A5A5"/>
<line x1="169.29" y1="467.40" x2="169.29" y2="478.70" stroke="#808080" stroke-width="0.4"/>
<line x1="168.29" y1="467.40" x2="170.29" y2="467.40" stroke="#808080" stroke-width="0.4"/>
<line x1="168.29" y1="478.70" x2="170.29" y2="478.70" stroke="#808080" stroke-width="0.4"/>
<rect x="174.26" y="467.91" width="6.30" height="56.49" fill="#FFC000"/>
<line x1="177.41" y1="462.27" x2="177.41" y2="473.56" stroke="#808080" stroke-width="0.4"/>
<line x1="176.41" y1="462.27" x2="178.41" y2="462.27" stroke="#808080" stroke-width="0.4"/>
<line x1="176.41" y1="473.56" x2="178.41" y2="473.56" stroke="#808080" stroke-width="0.4"/>
<rect x="182.38" y="483.32" width="6.30" height="41.08" fill="#5B9BD5"/>
<rect x="203.10" y="519.52" width="6.30" height="4.88" fill="#4472C4"/>
<line x1="206.25" y1="518.75" x2="206.25" y2="520.29" stroke="#808080" stroke-width="0.4"/>
<line x1="205.25" y1="518.75" x2="207.25" y2="518.75" stroke="#808080" stroke-width="0.4"/>
<line x1="205.25" y1="520.29" x2="207.25" y2="520.29" stroke="#808080" stroke-width="0.4"/>
<rect x="211.22" y="514.39" width="6.30" height="10.01" fill="#ED7D31"/>
<line x1="214.37" y1="513.87" x2="214.37" y2="514.90" stroke="#808080" stroke-width="0.4"/>
<line x1="213.37" y1="513.87" x2="215.37" y2="513.87" stroke="#808080" stroke-width="0.4"/>
<line x1="213.37" y1="514.90" x2="215.37" y2="514.90" stroke="#808080" stroke-width="0.4"/>
<rect x="219.34" y="514.39" width="6.30" height="10.01" fill="#A5A5A5"/>
<line x1="222.49" y1="513.87" x2="222.49" y2="514.90" stroke="#808080" stroke-width="0.4"/>
<line x1="221.49" y1="513.87" x2="223.49" y2="513.87" stroke="#808080" stroke-width="0.4"/>
<line x1="221.49" y1="514.90" x2="223.49" y2="514.90" stroke="#808080" stroke-width="0.4"/>
<rect x="227.46" y="519.52" width="6.30" height="4.88" fill="#FFC000"/>
<line x1="230.61" y1="515.67" x2="230.61" y2="523.37" stroke="#808080" stroke-width="0.4"/>
<line x1="229.61" y1="515.67" x2="231.61" y2="515.67" stroke="#808080" stroke-width="0.4"/>
<line x1="229.61" y1="523.37" x2="231.61" y2="523.37" stroke="#808080" stroke-width="0.4"/>
<rect x="235.58" y="521.99" width="6.30" height="2.41" fill="#5B9BD5"/>
<line x1="238.73" y1="521.32" x2="238.73" y2="522.60" stroke="#808080" stroke-width="0.4"/>
<line x1="237.73" y1="521.32" x2="239.73" y2="521.32" stroke="#808080" stroke-width="0.4"/>
<line x1="237.73" y1="522.60" x2="239.73" y2="522.60" stroke="#808080" stroke-width="0.4"/>
<rect x="256.00" y="488.45" width="6.30" height="35.94" fill="#4472C4"/>
<line x1="259.15" y1="477.67" x2="259.15" y2="498.21" stroke="#808080" stroke-width="0.4"/>
<line x1="258.15" y1="477.67" x2="260.15" y2="477.67" stroke="#808080" stroke-width="0.4"/>
<line x1="258.15" y1="498.21" x2="260.15" y2="498.21" stroke="#808080" stroke-width="0.4"/>
<rect x="264.12" y="485.89" width="6.30" height="38.51" fill="#ED7D31"/>
<line x1="267.27" y1="483.32" x2="267.27" y2="488.45" stroke="#808080" stroke-width="0.4"/>
<line x1="266.27" y1="483.32" x2="268.27" y2="483.32" stroke="#808080" stroke-width="0.4"/>
<line x1="266.27" y1="488.45" x2="268.27" y2="488.45" stroke="#808080" stroke-width="0.4"/>
<rect x="272.24" y="444.81" width="6.30" height="79.59" fill="#A5A5A5"/>
<line x1="275.39" y1="436.08" x2="275.39" y2="452.51" stroke="#808080" stroke-width="0.4"/>
<line x1="274.39" y1="436.08" x2="276.39" y2="436.08" stroke="#808080" stroke-width="0.4"/>
<line x1="274.39" y1="452.51" x2="276.39" y2="452.51" stroke="#808080" stroke-width="0.4"/>
<rect x="280.36" y="437.10" width="6.30" height="87.30" fill="#FFC000"/>
<line x1="283.51" y1="430.94" x2="283.51" y2="442.75" stroke="#808080" stroke-width="0.4"/>
<line x1="282.51" y1="430.94" x2="284.51" y2="430.94" stroke="#808080" stroke-width="0.4"/>
<line x1="282.51" y1="442.75" x2="284.51" y2="442.75" stroke="#808080" stroke-width="0.4"/>
<rect x="288.48" y="473.05" width="6.30" height="51.35" fill="#5B9BD5"/>
<line x1="291.63" y1="467.40" x2="291.63" y2="478.70" stroke="#808080" stroke-width="0.4"/>
<line x1="290.63" y1="467.40" x2="292.63" y2="467.40" stroke="#808080" stroke-width="0.4"/>
<line x1="290.63" y1="478.70" x2="292.63" y2="478.70" stroke="#808080" stroke-width="0.4"/>
<rect x="308.90" y="514.39" width="6.30" height="10.01" fill="#4472C4"/>
<line x1="312.05" y1="511.05" x2="312.05" y2="518.24" stroke="#808080" stroke-width="0.4"/>
<line x1="311.05" y1="511.05" x2="313.05" y2="511.05" stroke="#808080" stroke-width="0.4"/>
<line x1="311.05" y1="518.24" x2="313.05" y2="518.24" stroke="#808080" stroke-width="0.4"/>
<rect x="325.14" y="521.99" width="6.30" height="2.41" fill="#A5A5A5"/>
<line x1="328.29" y1="520.81" x2="328.29" y2="523.12" stroke="#808080" stroke-width="0.4"/>
<line x1="327.29" y1="520.81" x2="329.29" y2="520.81" stroke="#808080" stroke-width="0.4"/>
<line x1="327.29" y1="523.12" x2="329.29" y2="523.12" stroke="#808080" stroke-width="0.4"/>
<rect x="333.26" y="514.39" width="6.30" height="10.01" fill="#FFC000"/>
<line x1="336.41" y1="509.51" x2="336.41" y2="519.26" stroke="#808080" stroke-width="0.4"/>
<line x1="335.41" y1="509.51" x2="337.41" y2="509.51" stroke="#808080" stroke-width="0.4"/>
<line x1="335.41" y1="519.26" x2="337.41" y2="519.26" stroke="#808080" stroke-width="0.4"/>
<rect x="341.38" y="521.99" width="6.30" height="2.41" fill="#5B9BD5"/>
<line x1="344.53" y1="521.32" x2="344.53" y2="522.60" stroke="#808080" stroke-width="0.4"/>
<line x1="343.53" y1="521.32" x2="345.53" y2="521.32" stroke="#808080" stroke-width="0.4"/>
<line x1="343.53" y1="522.60" x2="345.53" y2="522.60" stroke="#808080" stroke-width="0.4"/>
<text x="168.40" y="463.30" font-size="5.4" text-anchor="middle" font-weight="bold" fill="#1f1f1f" stroke="#1f1f1f" stroke-width="0.08" textLength="7.80" lengthAdjust="spacing">***</text>
<text x="176.60" y="456.50" font-size="5.4" text-anchor="middle" font-weight="bold" fill="#1f1f1f" stroke="#1f1f1f" stroke-width="0.08" textLength="7.80" lengthAdjust="spacing">***</text>
<text x="185.70" y="479.00" font-size="5.4" text-anchor="middle" font-weight="bold" fill="#1f1f1f" stroke="#1f1f1f" stroke-width="0.08" textLength="5.20" lengthAdjust="spacing">**</text>
<text x="275.30" y="432.60" font-size="5.4" text-anchor="middle" font-weight="bold" fill="#1f1f1f" stroke="#1f1f1f" stroke-width="0.08">*</text>
<text x="283.40" y="426.40" font-size="5.4" text-anchor="middle" font-weight="bold" fill="#1f1f1f" stroke="#1f1f1f" stroke-width="0.08" textLength="5.20" lengthAdjust="spacing">**</text>
<text x="291.50" y="463.00" font-size="5.4" text-anchor="middle" font-weight="bold" fill="#1f1f1f" stroke="#1f1f1f" stroke-width="0.08">*</text>
<text x="355.20" y="423.10" font-size="4.8" text-anchor="middle" font-weight="normal" fill="#333" stroke="#333" stroke-width="0.15">G</text>
<text x="124.60" y="469.70" font-size="5" text-anchor="middle" font-weight="bold" fill="#1f1f1f" stroke="#1f1f1f" stroke-width="0.22" transform="rotate(-90 124.60 469.70)">‰</text>
<text x="169.39" y="532.40" font-size="4.8" text-anchor="middle" font-weight="bold" fill="#1f1f1f" stroke="#1f1f1f" stroke-width="0.1" textLength="43.00" lengthAdjust="spacingAndGlyphs">aberrations (30 min)</text>
<text x="222.59" y="532.40" font-size="4.8" text-anchor="middle" font-weight="bold" fill="#1f1f1f" stroke="#1f1f1f" stroke-width="0.1" textLength="43.00" lengthAdjust="spacingAndGlyphs">micronuclei (30 min)</text>
<text x="275.49" y="532.40" font-size="4.8" text-anchor="middle" font-weight="bold" fill="#1f1f1f" stroke="#1f1f1f" stroke-width="0.1" textLength="43.00" lengthAdjust="spacingAndGlyphs">aberrations (60 min)</text>
<text x="328.39" y="532.40" font-size="4.8" text-anchor="middle" font-weight="bold" fill="#1f1f1f" stroke="#1f1f1f" stroke-width="0.1" textLength="43.00" lengthAdjust="spacingAndGlyphs">micronuclei (60 min)</text>
<rect x="177.70" y="538.90" width="2.80" height="2.80" fill="#4472C4"/>
<text x="182.10" y="542.10" font-size="4.8" text-anchor="start" font-weight="bold" fill="#1f1f1f" stroke="#1f1f1f" stroke-width="0.1">0</text>
<rect x="195.30" y="538.90" width="2.80" height="2.80" fill="#ED7D31"/>
<text x="199.70" y="542.10" font-size="4.8" text-anchor="start" font-weight="bold" fill="#1f1f1f" stroke="#1f1f1f" stroke-width="0.1" textLength="13.00" lengthAdjust="spacingAndGlyphs">MeOH</text>
<rect x="222.50" y="538.90" width="2.80" height="2.80" fill="#A5A5A5"/>
<text x="226.90" y="542.10" font-size="4.8" text-anchor="start" font-weight="bold" fill="#1f1f1f" stroke="#1f1f1f" stroke-width="0.1" textLength="24.00" lengthAdjust="spacingAndGlyphs">0.05 μg/mL</text>
<rect x="260.60" y="538.90" width="2.80" height="2.80" fill="#FFC000"/>
<text x="265.00" y="542.10" font-size="4.8" text-anchor="start" font-weight="bold" fill="#1f1f1f" stroke="#1f1f1f" stroke-width="0.1" textLength="21.50" lengthAdjust="spacingAndGlyphs">0.5 μg/mL</text>
<rect x="297.80" y="538.90" width="2.80" height="2.80" fill="#5B9BD5"/>
<text x="302.20" y="542.10" font-size="4.8" text-anchor="start" font-weight="bold" fill="#1f1f1f" stroke="#1f1f1f" stroke-width="0.1" textLength="16.80" lengthAdjust="spacingAndGlyphs">5 μg/mL</text>
</svg>
</body></html>
